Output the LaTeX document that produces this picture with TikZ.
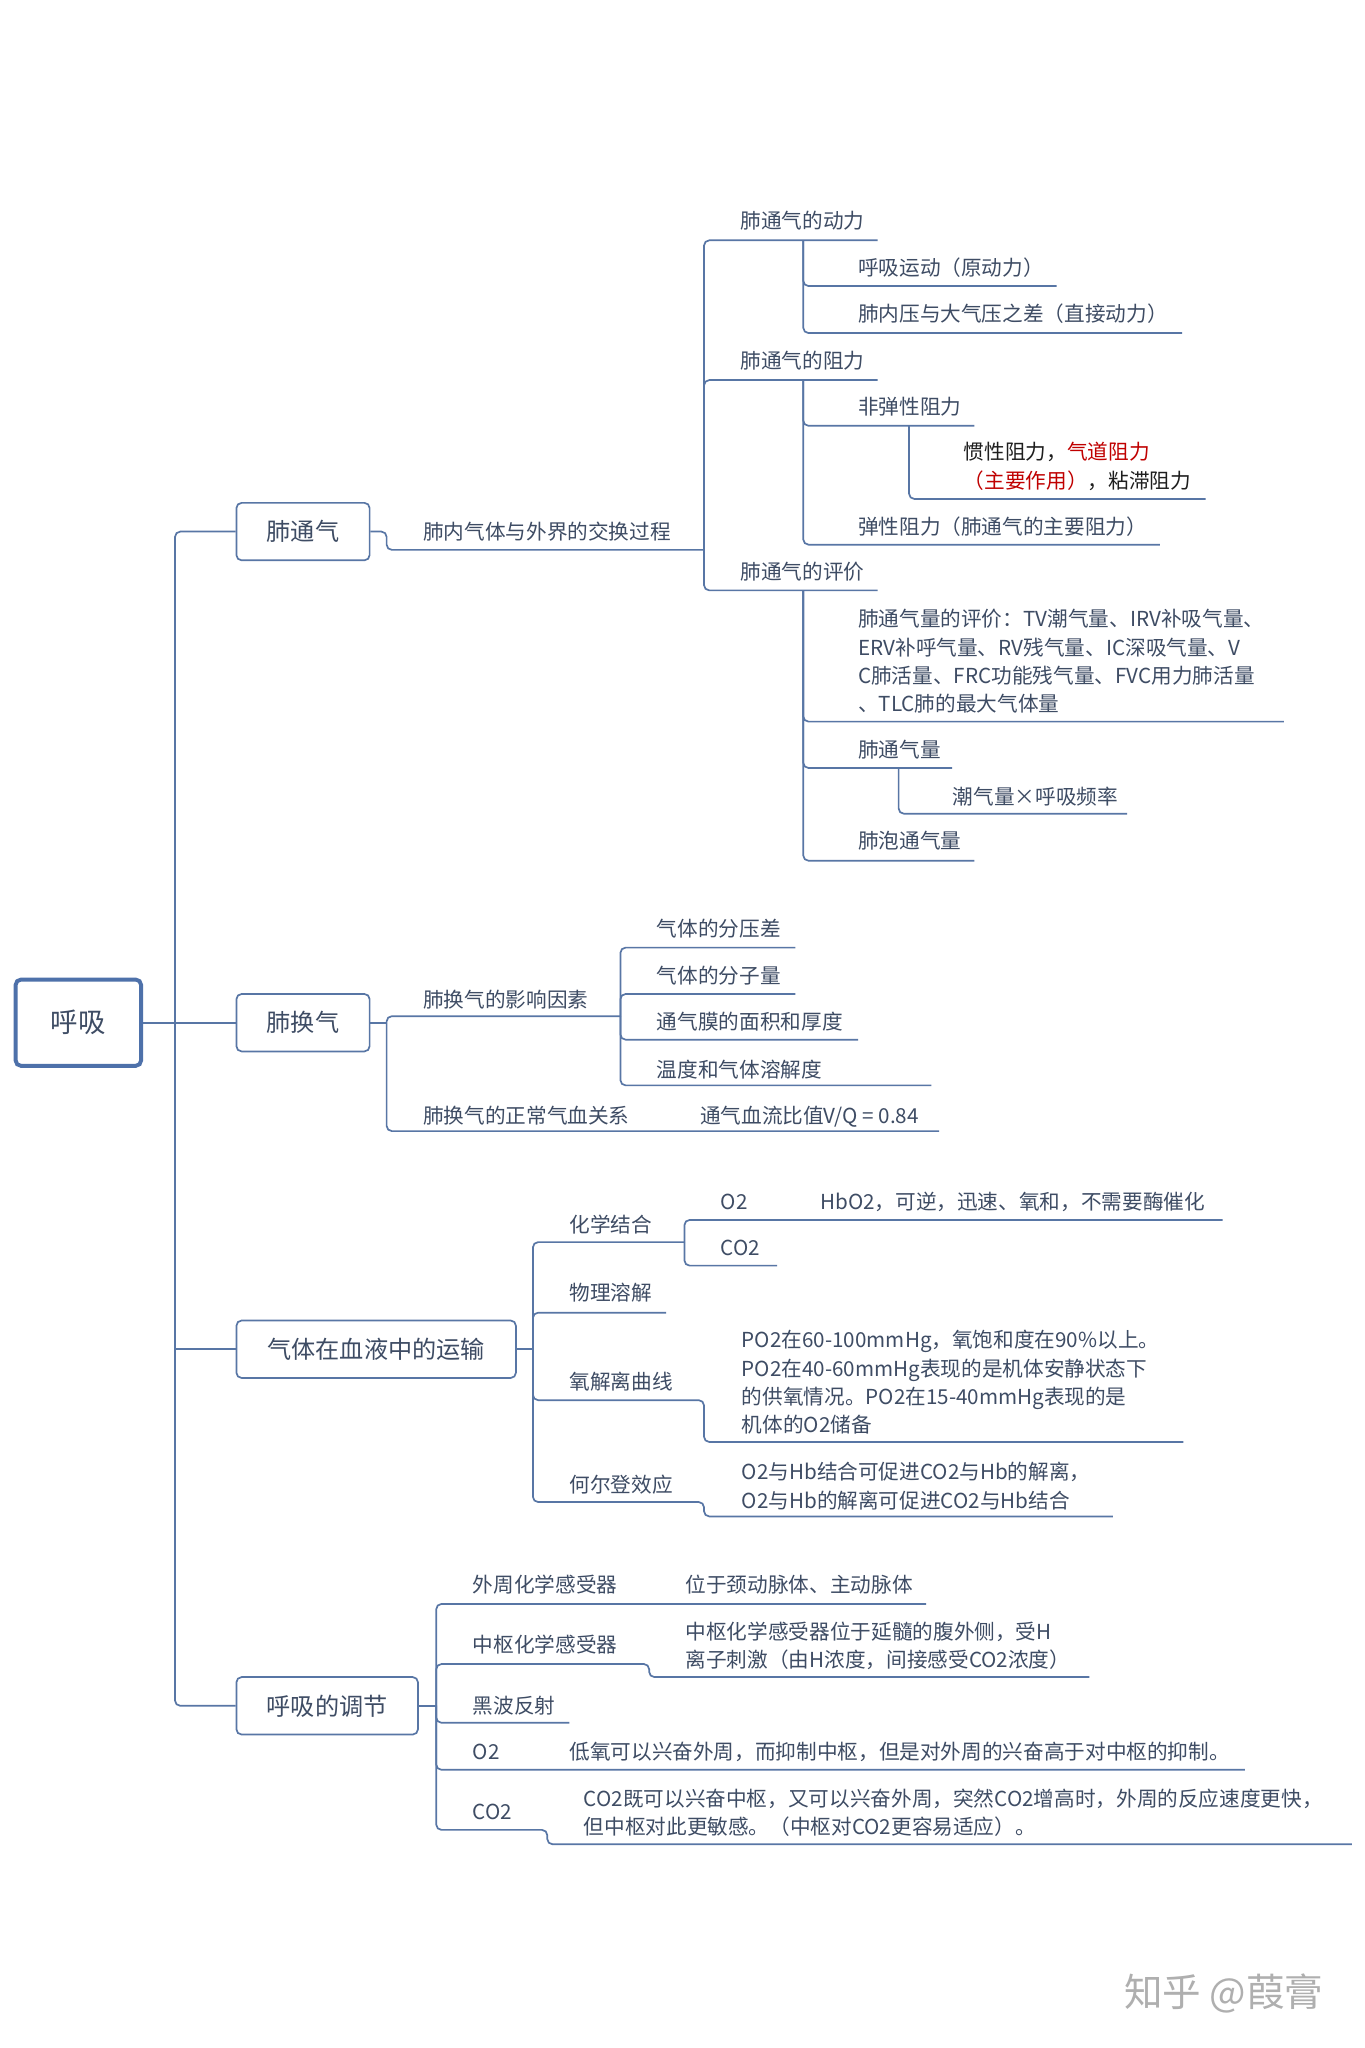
\documentclass[tikz,border=0pt]{standalone}
\usepackage{fontspec}
\setmainfont{Noto Sans CJK SC}
\definecolor{lnc}{RGB}{88,118,165}
\definecolor{rootc}{RGB}{78,113,170}
\definecolor{txc}{RGB}{62,76,100}
\definecolor{blk}{RGB}{30,30,30}
\definecolor{rd}{RGB}{192,0,0}
\definecolor{wm}{RGB}{175,175,175}
\newcommand\fsA{\fontsize{15.8}{21.7}\selectfont}
\newcommand\fsB{\fontsize{18.5}{22}\selectfont}
\newcommand\fsC{\fontsize{21}{25}\selectfont}
\newcommand\fsW{\fontsize{29.5}{31}\selectfont}
\begin{document}
\begin{tikzpicture}[x=1pt,y=-1pt,
  ln/.style={draw=lnc, line width=1.3pt},
  rc/.style={rounded corners=4pt},
  tx/.style={anchor=base west, inner sep=0pt, outer sep=0pt, font=\fsA, text=txc},
  box/.style={draw=lnc, line width=1.3pt, rounded corners=4pt, fill=white,
    minimum height=44pt, inner sep=0pt, font=\fsB, text=txc},
  rootbox/.style={draw=rootc, line width=3pt, rounded corners=4pt, fill=white,
    minimum width=96pt, minimum height=66pt, inner sep=0pt, font=\fsC, text=txc}]
\fill[white] (0,0) rectangle (1045,1568);
\useasboundingbox (0,0) rectangle (1045,1568);

% ---------- boxes ----------
\node[rootbox] (root) at (60,783) {呼吸};
\node[box, minimum width=102pt] (b1) at (232,407) {肺通气};
\node[box, minimum width=102pt] (b2) at (232,783) {肺换气};
\node[box, minimum width=214pt] (b3) at (288,1033) {气体在血液中的运输};
\node[box, minimum width=139pt] (b4) at (250.5,1306) {呼吸的调节};

% trunk
\draw[ln,rc] (b1.west) -- (134,407) -- (134,1306) -- (b4.west);
\draw[ln] (root.east) -- (b2.west);
\draw[ln] (134,1033) -- (b3.west);

% ---------- section 1 ----------
\draw[ln,rc] (b1.east) -- (296,407) -- (296,421) -- (539,421);
\node[tx] (t11) at (324,413) {肺内气体与外界的交换过程};
\foreach \yy/\ee in {184/672, 291/672, 452/672}
  \draw[ln,rc] (539,421) -- (539,\yy) -- (\ee,\yy);
\node[tx] (t21) at (567,175) {肺通气的动力};
\node[tx] (t22) at (567,282) {肺通气的阻力};
\node[tx] (t23) at (567,444) {肺通气的评价};

\foreach \yy/\ee in {219/809, 255/905}
  \draw[ln,rc] (615,184) -- (615,\yy) -- (\ee,\yy);
\node[tx] (t31) at (657,211) {呼吸运动（原动力）};
\node[tx] (t32) at (657,246) {肺内压与大气压之差（直接动力）};

\foreach \yy/\ee in {326/746, 417/888}
  \draw[ln,rc] (615,291) -- (615,\yy) -- (\ee,\yy);
\node[tx] (t33) at (657,317) {非弹性阻力};
\draw[ln,rc] (696,326) -- (696,382) -- (923,382);
\node[tx] (t34) at (738,352) {\vtop{\hbox{\textcolor{blk}{惯性阻力，}\textcolor{rd}{气道阻力}}\hbox{\textcolor{rd}{（主要作用）}\textcolor{blk}{，粘滞阻力}}}};
\node[tx] (t35) at (657,409) {弹性阻力（肺通气的主要阻力）};

\foreach \yy/\ee in {552.5/983, 588/729, 659/746}
  \draw[ln,rc] (615,452) -- (615,\yy) -- (\ee,\yy);
\node[tx] (t36) at (657,480) {\vtop{\hbox{肺通气量的评价：TV潮气量、IRV补吸气量、}\hbox{ERV补呼气量、RV残气量、IC深吸气量、V}\hbox{C肺活量、FRC功能残气量、FVC用力肺活量}\hbox{、TLC肺的最大气体量}}};
\node[tx] (t37) at (657,580) {肺通气量};
\draw[ln,rc] (688,588) -- (688,623) -- (863,623);
\node[tx] (t38) at (729.5,616) {潮气量×呼吸频率};
\node[tx] (t39) at (657,650) {肺泡通气量};

% ---------- section 2 ----------
\draw[ln] (b2.east) -- (296,783);
\foreach \yy/\ee in {778/475, 866/719}
  \draw[ln,rc] (296,783) -- (296,\yy) -- (\ee,\yy);
\node[tx] (u11) at (324,771) {肺换气的影响因素};
\node[tx] (u12) at (324,860) {肺换气的正常气血关系};
\node[tx] (u13) at (536,860) {通气血流比值V/Q = 0.84};
\foreach \yy/\ee in {725.5/609, 761/609, 796/657, 831/713}
  \draw[ln,rc] (475,778) -- (475,\yy) -- (\ee,\yy);
\node[tx] (u21) at (503,717) {气体的分压差};
\node[tx] (u22) at (503,753) {气体的分子量};
\node[tx] (u23) at (503,788) {通气膜的面积和厚度};
\node[tx] (u24) at (503,825) {温度和气体溶解度};

% ---------- section 3 ----------
\draw[ln] (b3.east) -- (408,1033);
\foreach \yy/\ee in {951/524, 1005/510}
  \draw[ln,rc] (408,1033) -- (408,\yy) -- (\ee,\yy);
\draw[ln,rc] (408,1033) -- (408,1072) -- (539,1072) -- (539,1104) -- (906,1104);
\draw[ln,rc] (408,1033) -- (408,1150) -- (539,1150) -- (539,1161) -- (852,1161);
\node[tx] (v11) at (436,944) {化学结合};
\node[tx] (v12) at (436,996) {物理溶解};
\node[tx] (v13) at (436,1064) {氧解离曲线};
\node[tx] (v14) at (436,1143) {何尔登效应};
\foreach \yy/\ee in {934/936, 969/595}
  \draw[ln,rc] (524,951) -- (524,\yy) -- (\ee,\yy);
\node[tx] (v21) at (552,926) {O2};
\node[tx] (v22) at (628,926) {HbO2，可逆，迅速、氧和，不需要酶催化};
\node[tx] (v23) at (552,961) {CO2};
\node[tx] (v24) at (568,1032) {\vtop{\hbox{PO2在60-100mmHg，氧饱和度在90\%以上。}\hbox{PO2在40-60mmHg表现的是机体安静状态下}\hbox{的供氧情况。PO2在15-40mmHg表现的是}\hbox{机体的O2储备}}};
\node[tx] (v25) at (568,1133) {\vtop{\hbox{O2与Hb结合可促进CO2与Hb的解离，}\hbox{O2与Hb的解离可促进CO2与Hb结合}}};

% ---------- section 4 ----------
\draw[ln] (b4.east) -- (334,1306);
\foreach \yy/\ee in {1228/709, 1319/436, 1355/953}
  \draw[ln,rc] (334,1306) -- (334,\yy) -- (\ee,\yy);
\draw[ln,rc] (334,1306) -- (334,1274) -- (497,1274) -- (497,1284) -- (834,1284);
\draw[ln,rc] (334,1306) -- (334,1401) -- (419,1401) -- (419,1412) -- (1035,1412);
\node[tx] (w11) at (362,1219) {外周化学感受器};
\node[tx] (w12) at (525,1219) {位于颈动脉体、主动脉体};
\node[tx] (w13) at (362,1265) {中枢化学感受器};
\node[tx] (w14) at (525,1255) {\vtop{\hbox{中枢化学感受器位于延髓的腹外侧，受H}\hbox{离子刺激（由H浓度，间接感受CO2浓度）}}};
\node[tx] (w15) at (362,1312) {黑波反射};
\node[tx] (w16) at (362,1347) {O2};
\node[tx] (w17) at (436,1347) {低氧可以兴奋外周，而抑制中枢，但是对外周的兴奋高于对中枢的抑制。};
\node[tx] (w18) at (362,1393) {CO2};
\node[tx] (w19) at (447,1383) {\vtop{\hbox{CO2既可以兴奋中枢，又可以兴奋外周，突然CO2增高时，外周的反应速度更快，}\hbox{但中枢对此更敏感。（中枢对CO2更容易适应）。}}};

% watermark
\node[font=\fsW, text=wm, inner sep=0pt] (wmk) at (937,1526) {知乎 @葭膏};
\end{tikzpicture}
\end{document}
